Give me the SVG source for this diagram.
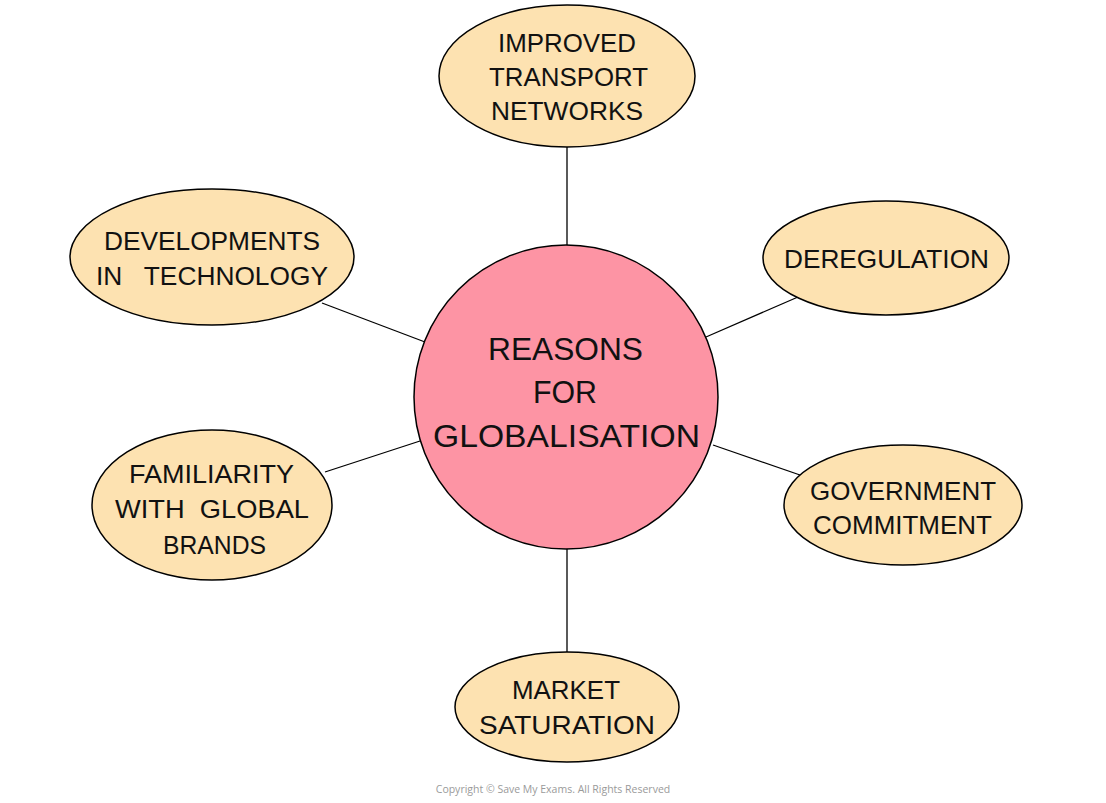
<svg xmlns="http://www.w3.org/2000/svg" width="1106" height="803" viewBox="0 0 1106 803">
<style>
.leaf{fill:#fde2b1;stroke:#000;stroke-width:1.5}
.hub{fill:#fd94a4;stroke:#000;stroke-width:1.5}
.t{font-family:"Liberation Sans",Arial,sans-serif;font-size:25px;fill:#111;text-anchor:middle;white-space:pre}
.c{font-size:31px}
.conn line{stroke:#000;stroke-width:1.3}
.copy{font-family:"Open Sans","Liberation Sans",sans-serif;font-size:10.5px;fill:#9a9a9a;text-anchor:middle}
</style>
<rect width="1106" height="803" fill="#fff"/>
<g id="connectors" class="conn">
<line x1="567" y1="147" x2="567" y2="245"/>
<line x1="322" y1="303" x2="425" y2="342"/>
<line x1="798" y1="297" x2="706" y2="337"/>
<line x1="325" y1="472" x2="420" y2="441"/>
<line x1="800" y1="475" x2="713" y2="445"/>
<line x1="567" y1="549" x2="567" y2="652"/>
</g>
<g id="hub">
<circle class="hub" cx="566" cy="397" r="152"/>
<text class="t c" x="565.5" y="360" textLength="155" lengthAdjust="spacingAndGlyphs">REASONS</text>
<text class="t c" x="565" y="403" textLength="64" lengthAdjust="spacingAndGlyphs">FOR</text>
<text class="t c" x="566.5" y="447" textLength="267" lengthAdjust="spacingAndGlyphs">GLOBALISATION</text>
</g>
<g id="transport">
<ellipse class="leaf" cx="567" cy="76" rx="128" ry="71"/>
<text class="t" x="567" y="52" textLength="138" lengthAdjust="spacingAndGlyphs">IMPROVED</text>
<text class="t" x="568.5" y="86" textLength="159" lengthAdjust="spacingAndGlyphs">TRANSPORT</text>
<text class="t" x="567" y="120" textLength="152" lengthAdjust="spacingAndGlyphs">NETWORKS</text>
</g>
<g id="technology">
<ellipse class="leaf" cx="212" cy="257" rx="142" ry="68"/>
<text class="t" x="212" y="250" textLength="216" lengthAdjust="spacingAndGlyphs">DEVELOPMENTS</text>
<text class="t" xml:space="preserve" x="212" y="285" textLength="232" lengthAdjust="spacingAndGlyphs">IN   TECHNOLOGY</text>
</g>
<g id="deregulation">
<ellipse class="leaf" cx="886" cy="258" rx="123" ry="57"/>
<text class="t" x="886.5" y="268" textLength="205" lengthAdjust="spacingAndGlyphs">DEREGULATION</text>
</g>
<g id="familiarity">
<ellipse class="leaf" cx="212" cy="505" rx="120" ry="75"/>
<text class="t" x="211.5" y="483" textLength="165" lengthAdjust="spacingAndGlyphs">FAMILIARITY</text>
<text class="t" xml:space="preserve" x="212" y="518" textLength="194" lengthAdjust="spacingAndGlyphs">WITH  GLOBAL</text>
<text class="t" x="214.5" y="554" textLength="103" lengthAdjust="spacingAndGlyphs">BRANDS</text>
</g>
<g id="government">
<ellipse class="leaf" cx="903" cy="505" rx="119" ry="60"/>
<text class="t" x="903" y="500" textLength="186" lengthAdjust="spacingAndGlyphs">GOVERNMENT</text>
<text class="t" x="902.5" y="534" textLength="179" lengthAdjust="spacingAndGlyphs">COMMITMENT</text>
</g>
<g id="market">
<ellipse class="leaf" cx="567" cy="707" rx="112" ry="55"/>
<text class="t" x="566" y="699" textLength="108" lengthAdjust="spacingAndGlyphs">MARKET</text>
<text class="t" x="567" y="734" textLength="176" lengthAdjust="spacingAndGlyphs">SATURATION</text>
</g>
<text class="copy" x="553" y="793">Copyright © Save My Exams. All Rights Reserved</text>
</svg>
